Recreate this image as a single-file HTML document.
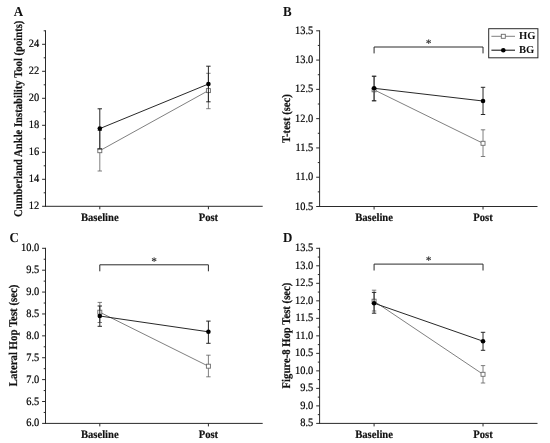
<!DOCTYPE html>
<html><head><meta charset="utf-8"><title>Figure</title>
<style>html,body{margin:0;padding:0;background:#fff;}svg{display:block;}text{font-family:"Liberation Serif", "Times New Roman", serif;text-rendering:geometricPrecision;}</style>
</head><body>
<svg width="550" height="443" viewBox="0 0 550 443">
<rect width="550" height="443" fill="#fff"/>
<line x1="45.50" y1="30.30" x2="45.50" y2="206.80" stroke="#2a2a2a" stroke-width="1"/>
<line x1="45.00" y1="206.30" x2="262.70" y2="206.30" stroke="#2a2a2a" stroke-width="1"/>
<line x1="42.10" y1="206.30" x2="45.50" y2="206.30" stroke="#2a2a2a" stroke-width="1"/>
<text x="0" y="0" font-size="10.4" text-anchor="end" fill="#000" stroke="#000" stroke-width="0.2" transform="translate(39.20 209.30) scale(1.0,1.09)">12</text>
<line x1="42.10" y1="179.30" x2="45.50" y2="179.30" stroke="#2a2a2a" stroke-width="1"/>
<text x="0" y="0" font-size="10.4" text-anchor="end" fill="#000" stroke="#000" stroke-width="0.2" transform="translate(39.20 182.30) scale(1.0,1.09)">14</text>
<line x1="42.10" y1="152.30" x2="45.50" y2="152.30" stroke="#2a2a2a" stroke-width="1"/>
<text x="0" y="0" font-size="10.4" text-anchor="end" fill="#000" stroke="#000" stroke-width="0.2" transform="translate(39.20 155.30) scale(1.0,1.09)">16</text>
<line x1="42.10" y1="125.30" x2="45.50" y2="125.30" stroke="#2a2a2a" stroke-width="1"/>
<text x="0" y="0" font-size="10.4" text-anchor="end" fill="#000" stroke="#000" stroke-width="0.2" transform="translate(39.20 128.30) scale(1.0,1.09)">18</text>
<line x1="42.10" y1="98.30" x2="45.50" y2="98.30" stroke="#2a2a2a" stroke-width="1"/>
<text x="0" y="0" font-size="10.4" text-anchor="end" fill="#000" stroke="#000" stroke-width="0.2" transform="translate(39.20 101.30) scale(1.0,1.09)">20</text>
<line x1="42.10" y1="71.30" x2="45.50" y2="71.30" stroke="#2a2a2a" stroke-width="1"/>
<text x="0" y="0" font-size="10.4" text-anchor="end" fill="#000" stroke="#000" stroke-width="0.2" transform="translate(39.20 74.30) scale(1.0,1.09)">22</text>
<line x1="42.10" y1="44.30" x2="45.50" y2="44.30" stroke="#2a2a2a" stroke-width="1"/>
<text x="0" y="0" font-size="10.4" text-anchor="end" fill="#000" stroke="#000" stroke-width="0.2" transform="translate(39.20 47.30) scale(1.0,1.09)">24</text>
<line x1="43.70" y1="192.80" x2="45.50" y2="192.80" stroke="#2a2a2a" stroke-width="1"/>
<line x1="43.70" y1="165.80" x2="45.50" y2="165.80" stroke="#2a2a2a" stroke-width="1"/>
<line x1="43.70" y1="138.80" x2="45.50" y2="138.80" stroke="#2a2a2a" stroke-width="1"/>
<line x1="43.70" y1="111.80" x2="45.50" y2="111.80" stroke="#2a2a2a" stroke-width="1"/>
<line x1="43.70" y1="84.80" x2="45.50" y2="84.80" stroke="#2a2a2a" stroke-width="1"/>
<line x1="43.70" y1="57.80" x2="45.50" y2="57.80" stroke="#2a2a2a" stroke-width="1"/>
<line x1="43.70" y1="30.80" x2="45.50" y2="30.80" stroke="#2a2a2a" stroke-width="1"/>
<line x1="99.80" y1="206.30" x2="99.80" y2="209.30" stroke="#2a2a2a" stroke-width="1"/>
<text x="0" y="0" font-size="10.65" font-weight="bold" text-anchor="middle" fill="#111" stroke="#111" stroke-width="0.15" transform="translate(99.80 220.70) scale(1.0,1.06)">Baseline</text>
<line x1="208.40" y1="206.30" x2="208.40" y2="209.30" stroke="#2a2a2a" stroke-width="1"/>
<text x="0" y="0" font-size="10.65" font-weight="bold" text-anchor="middle" fill="#111" stroke="#111" stroke-width="0.15" transform="translate(208.40 220.70) scale(1.0,1.06)">Post</text>
<text x="0" y="0" font-size="13.0" font-weight="bold" text-anchor="start" fill="#111" transform="translate(13.70 16.40) scale(1.0,1.06)">A</text>
<text x="0" y="0" font-size="10.65" font-weight="bold" text-anchor="middle" fill="#111" stroke="#111" stroke-width="0.2" transform="translate(21.90 118.75) rotate(-90) scale(1.0,1.1)">Cumberland Ankle Instability Tool (points)</text>
<line x1="99.80" y1="150.70" x2="208.40" y2="90.60" stroke="#606060" stroke-width="0.8"/>
<line x1="99.80" y1="130.50" x2="99.80" y2="171.00" stroke="#606060" stroke-width="0.8"/>
<line x1="97.60" y1="130.50" x2="102.00" y2="130.50" stroke="#606060" stroke-width="0.8"/>
<line x1="97.60" y1="171.00" x2="102.00" y2="171.00" stroke="#606060" stroke-width="0.8"/>
<rect x="97.80" y="148.70" width="4" height="4" fill="#fff" stroke="#6a6a6a" stroke-width="0.9"/>
<line x1="208.40" y1="73.30" x2="208.40" y2="108.70" stroke="#606060" stroke-width="0.8"/>
<line x1="206.20" y1="73.30" x2="210.60" y2="73.30" stroke="#606060" stroke-width="0.8"/>
<line x1="206.20" y1="108.70" x2="210.60" y2="108.70" stroke="#606060" stroke-width="0.8"/>
<rect x="206.40" y="88.60" width="4" height="4" fill="#fff" stroke="#6a6a6a" stroke-width="0.9"/>
<line x1="99.80" y1="128.60" x2="208.40" y2="84.00" stroke="#1c1c1c" stroke-width="0.95"/>
<line x1="99.80" y1="108.80" x2="99.80" y2="149.00" stroke="#1c1c1c" stroke-width="0.95"/>
<line x1="97.60" y1="108.80" x2="102.00" y2="108.80" stroke="#1c1c1c" stroke-width="0.95"/>
<line x1="97.60" y1="149.00" x2="102.00" y2="149.00" stroke="#1c1c1c" stroke-width="0.95"/>
<circle cx="99.80" cy="128.60" r="2.3" fill="#000"/>
<line x1="208.40" y1="66.20" x2="208.40" y2="101.80" stroke="#1c1c1c" stroke-width="0.95"/>
<line x1="206.20" y1="66.20" x2="210.60" y2="66.20" stroke="#1c1c1c" stroke-width="0.95"/>
<line x1="206.20" y1="101.80" x2="210.60" y2="101.80" stroke="#1c1c1c" stroke-width="0.95"/>
<circle cx="208.40" cy="84.00" r="2.3" fill="#000"/>
<line x1="319.60" y1="30.30" x2="319.60" y2="207.00" stroke="#2a2a2a" stroke-width="1"/>
<line x1="319.10" y1="206.50" x2="537.50" y2="206.50" stroke="#2a2a2a" stroke-width="1"/>
<line x1="316.20" y1="206.50" x2="319.60" y2="206.50" stroke="#2a2a2a" stroke-width="1"/>
<text x="0" y="0" font-size="10.4" text-anchor="end" fill="#000" stroke="#000" stroke-width="0.2" transform="translate(313.30 209.50) scale(1.0,1.09)">10.5</text>
<line x1="316.20" y1="177.22" x2="319.60" y2="177.22" stroke="#2a2a2a" stroke-width="1"/>
<text x="0" y="0" font-size="10.4" text-anchor="end" fill="#000" stroke="#000" stroke-width="0.2" transform="translate(313.30 180.22) scale(1.0,1.09)">11.0</text>
<line x1="316.20" y1="147.93" x2="319.60" y2="147.93" stroke="#2a2a2a" stroke-width="1"/>
<text x="0" y="0" font-size="10.4" text-anchor="end" fill="#000" stroke="#000" stroke-width="0.2" transform="translate(313.30 150.93) scale(1.0,1.09)">11.5</text>
<line x1="316.20" y1="118.65" x2="319.60" y2="118.65" stroke="#2a2a2a" stroke-width="1"/>
<text x="0" y="0" font-size="10.4" text-anchor="end" fill="#000" stroke="#000" stroke-width="0.2" transform="translate(313.30 121.65) scale(1.0,1.09)">12.0</text>
<line x1="316.20" y1="89.37" x2="319.60" y2="89.37" stroke="#2a2a2a" stroke-width="1"/>
<text x="0" y="0" font-size="10.4" text-anchor="end" fill="#000" stroke="#000" stroke-width="0.2" transform="translate(313.30 92.37) scale(1.0,1.09)">12.5</text>
<line x1="316.20" y1="60.08" x2="319.60" y2="60.08" stroke="#2a2a2a" stroke-width="1"/>
<text x="0" y="0" font-size="10.4" text-anchor="end" fill="#000" stroke="#000" stroke-width="0.2" transform="translate(313.30 63.08) scale(1.0,1.09)">13.0</text>
<line x1="316.20" y1="30.80" x2="319.60" y2="30.80" stroke="#2a2a2a" stroke-width="1"/>
<text x="0" y="0" font-size="10.4" text-anchor="end" fill="#000" stroke="#000" stroke-width="0.2" transform="translate(313.30 33.80) scale(1.0,1.09)">13.5</text>
<line x1="317.80" y1="191.86" x2="319.60" y2="191.86" stroke="#2a2a2a" stroke-width="1"/>
<line x1="317.80" y1="162.57" x2="319.60" y2="162.57" stroke="#2a2a2a" stroke-width="1"/>
<line x1="317.80" y1="133.29" x2="319.60" y2="133.29" stroke="#2a2a2a" stroke-width="1"/>
<line x1="317.80" y1="104.01" x2="319.60" y2="104.01" stroke="#2a2a2a" stroke-width="1"/>
<line x1="317.80" y1="74.73" x2="319.60" y2="74.73" stroke="#2a2a2a" stroke-width="1"/>
<line x1="317.80" y1="45.44" x2="319.60" y2="45.44" stroke="#2a2a2a" stroke-width="1"/>
<line x1="374.08" y1="206.50" x2="374.08" y2="209.50" stroke="#2a2a2a" stroke-width="1"/>
<text x="0" y="0" font-size="10.65" font-weight="bold" text-anchor="middle" fill="#111" stroke="#111" stroke-width="0.15" transform="translate(374.08 220.90) scale(1.0,1.06)">Baseline</text>
<line x1="483.02" y1="206.50" x2="483.02" y2="209.50" stroke="#2a2a2a" stroke-width="1"/>
<text x="0" y="0" font-size="10.65" font-weight="bold" text-anchor="middle" fill="#111" stroke="#111" stroke-width="0.15" transform="translate(483.02 220.90) scale(1.0,1.06)">Post</text>
<text x="0" y="0" font-size="13.0" font-weight="bold" text-anchor="start" fill="#111" transform="translate(283.10 16.40) scale(1.0,1.06)">B</text>
<text x="0" y="0" font-size="10.6" font-weight="bold" text-anchor="middle" fill="#111" stroke="#111" stroke-width="0.2" transform="translate(290.00 118.65) rotate(-90) scale(1.0,1.1)">T-test (sec)</text>
<line x1="374.08" y1="89.80" x2="483.02" y2="143.30" stroke="#606060" stroke-width="0.8"/>
<line x1="374.08" y1="76.30" x2="374.08" y2="100.80" stroke="#606060" stroke-width="0.8"/>
<line x1="371.88" y1="76.30" x2="376.28" y2="76.30" stroke="#606060" stroke-width="0.8"/>
<line x1="371.88" y1="100.80" x2="376.28" y2="100.80" stroke="#606060" stroke-width="0.8"/>
<rect x="372.08" y="87.80" width="4" height="4" fill="#fff" stroke="#6a6a6a" stroke-width="0.9"/>
<line x1="483.02" y1="129.80" x2="483.02" y2="156.50" stroke="#606060" stroke-width="0.8"/>
<line x1="480.82" y1="129.80" x2="485.22" y2="129.80" stroke="#606060" stroke-width="0.8"/>
<line x1="480.82" y1="156.50" x2="485.22" y2="156.50" stroke="#606060" stroke-width="0.8"/>
<rect x="481.02" y="141.30" width="4" height="4" fill="#fff" stroke="#6a6a6a" stroke-width="0.9"/>
<line x1="374.08" y1="88.30" x2="483.02" y2="101.00" stroke="#1c1c1c" stroke-width="0.95"/>
<line x1="374.08" y1="76.20" x2="374.08" y2="100.80" stroke="#1c1c1c" stroke-width="0.95"/>
<line x1="371.88" y1="76.20" x2="376.28" y2="76.20" stroke="#1c1c1c" stroke-width="0.95"/>
<line x1="371.88" y1="100.80" x2="376.28" y2="100.80" stroke="#1c1c1c" stroke-width="0.95"/>
<circle cx="374.08" cy="88.30" r="2.3" fill="#000"/>
<line x1="483.02" y1="87.30" x2="483.02" y2="114.50" stroke="#1c1c1c" stroke-width="0.95"/>
<line x1="480.82" y1="87.30" x2="485.22" y2="87.30" stroke="#1c1c1c" stroke-width="0.95"/>
<line x1="480.82" y1="114.50" x2="485.22" y2="114.50" stroke="#1c1c1c" stroke-width="0.95"/>
<circle cx="483.02" cy="101.00" r="2.3" fill="#000"/>
<polyline points="374.08,53.40 374.08,47.00 483.02,47.00 483.02,53.40" fill="none" stroke="#2a2a2a" stroke-width="1"/>
<text x="0" y="0" font-size="11.5" font-weight="bold" text-anchor="middle" fill="#333" transform="translate(428.55 47.00) scale(1.0,1.0)">*</text>
<line x1="45.50" y1="247.80" x2="45.50" y2="423.90" stroke="#2a2a2a" stroke-width="1"/>
<line x1="45.00" y1="423.40" x2="262.70" y2="423.40" stroke="#2a2a2a" stroke-width="1"/>
<line x1="42.10" y1="423.40" x2="45.50" y2="423.40" stroke="#2a2a2a" stroke-width="1"/>
<text x="0" y="0" font-size="10.4" text-anchor="end" fill="#000" stroke="#000" stroke-width="0.2" transform="translate(39.20 426.40) scale(1.0,1.09)">6.0</text>
<line x1="42.10" y1="401.51" x2="45.50" y2="401.51" stroke="#2a2a2a" stroke-width="1"/>
<text x="0" y="0" font-size="10.4" text-anchor="end" fill="#000" stroke="#000" stroke-width="0.2" transform="translate(39.20 404.51) scale(1.0,1.09)">6.5</text>
<line x1="42.10" y1="379.62" x2="45.50" y2="379.62" stroke="#2a2a2a" stroke-width="1"/>
<text x="0" y="0" font-size="10.4" text-anchor="end" fill="#000" stroke="#000" stroke-width="0.2" transform="translate(39.20 382.62) scale(1.0,1.09)">7.0</text>
<line x1="42.10" y1="357.74" x2="45.50" y2="357.74" stroke="#2a2a2a" stroke-width="1"/>
<text x="0" y="0" font-size="10.4" text-anchor="end" fill="#000" stroke="#000" stroke-width="0.2" transform="translate(39.20 360.74) scale(1.0,1.09)">7.5</text>
<line x1="42.10" y1="335.85" x2="45.50" y2="335.85" stroke="#2a2a2a" stroke-width="1"/>
<text x="0" y="0" font-size="10.4" text-anchor="end" fill="#000" stroke="#000" stroke-width="0.2" transform="translate(39.20 338.85) scale(1.0,1.09)">8.0</text>
<line x1="42.10" y1="313.96" x2="45.50" y2="313.96" stroke="#2a2a2a" stroke-width="1"/>
<text x="0" y="0" font-size="10.4" text-anchor="end" fill="#000" stroke="#000" stroke-width="0.2" transform="translate(39.20 316.96) scale(1.0,1.09)">8.5</text>
<line x1="42.10" y1="292.07" x2="45.50" y2="292.07" stroke="#2a2a2a" stroke-width="1"/>
<text x="0" y="0" font-size="10.4" text-anchor="end" fill="#000" stroke="#000" stroke-width="0.2" transform="translate(39.20 295.07) scale(1.0,1.09)">9.0</text>
<line x1="42.10" y1="270.19" x2="45.50" y2="270.19" stroke="#2a2a2a" stroke-width="1"/>
<text x="0" y="0" font-size="10.4" text-anchor="end" fill="#000" stroke="#000" stroke-width="0.2" transform="translate(39.20 273.19) scale(1.0,1.09)">9.5</text>
<line x1="42.10" y1="248.30" x2="45.50" y2="248.30" stroke="#2a2a2a" stroke-width="1"/>
<text x="0" y="0" font-size="10.4" text-anchor="end" fill="#000" stroke="#000" stroke-width="0.2" transform="translate(39.20 251.30) scale(1.0,1.09)">10.0</text>
<line x1="43.70" y1="412.46" x2="45.50" y2="412.46" stroke="#2a2a2a" stroke-width="1"/>
<line x1="43.70" y1="390.57" x2="45.50" y2="390.57" stroke="#2a2a2a" stroke-width="1"/>
<line x1="43.70" y1="368.68" x2="45.50" y2="368.68" stroke="#2a2a2a" stroke-width="1"/>
<line x1="43.70" y1="346.79" x2="45.50" y2="346.79" stroke="#2a2a2a" stroke-width="1"/>
<line x1="43.70" y1="324.91" x2="45.50" y2="324.91" stroke="#2a2a2a" stroke-width="1"/>
<line x1="43.70" y1="303.02" x2="45.50" y2="303.02" stroke="#2a2a2a" stroke-width="1"/>
<line x1="43.70" y1="281.13" x2="45.50" y2="281.13" stroke="#2a2a2a" stroke-width="1"/>
<line x1="43.70" y1="259.24" x2="45.50" y2="259.24" stroke="#2a2a2a" stroke-width="1"/>
<line x1="99.80" y1="423.40" x2="99.80" y2="426.40" stroke="#2a2a2a" stroke-width="1"/>
<text x="0" y="0" font-size="10.65" font-weight="bold" text-anchor="middle" fill="#111" stroke="#111" stroke-width="0.15" transform="translate(99.80 437.80) scale(1.0,1.06)">Baseline</text>
<line x1="208.40" y1="423.40" x2="208.40" y2="426.40" stroke="#2a2a2a" stroke-width="1"/>
<text x="0" y="0" font-size="10.65" font-weight="bold" text-anchor="middle" fill="#111" stroke="#111" stroke-width="0.15" transform="translate(208.40 437.80) scale(1.0,1.06)">Post</text>
<text x="0" y="0" font-size="13.0" font-weight="bold" text-anchor="start" fill="#111" transform="translate(9.40 242.20) scale(1.0,1.06)">C</text>
<text x="0" y="0" font-size="10.8" font-weight="bold" text-anchor="middle" fill="#111" stroke="#111" stroke-width="0.2" transform="translate(16.90 335.45) rotate(-90) scale(1.0,1.1)">Lateral Hop Test (sec)</text>
<line x1="99.80" y1="312.20" x2="208.40" y2="366.20" stroke="#606060" stroke-width="0.8"/>
<line x1="99.80" y1="302.40" x2="99.80" y2="322.50" stroke="#606060" stroke-width="0.8"/>
<line x1="97.60" y1="302.40" x2="102.00" y2="302.40" stroke="#606060" stroke-width="0.8"/>
<line x1="97.60" y1="322.50" x2="102.00" y2="322.50" stroke="#606060" stroke-width="0.8"/>
<rect x="97.80" y="310.20" width="4" height="4" fill="#fff" stroke="#6a6a6a" stroke-width="0.9"/>
<line x1="208.40" y1="355.20" x2="208.40" y2="376.80" stroke="#606060" stroke-width="0.8"/>
<line x1="206.20" y1="355.20" x2="210.60" y2="355.20" stroke="#606060" stroke-width="0.8"/>
<line x1="206.20" y1="376.80" x2="210.60" y2="376.80" stroke="#606060" stroke-width="0.8"/>
<rect x="206.40" y="364.20" width="4" height="4" fill="#fff" stroke="#6a6a6a" stroke-width="0.9"/>
<line x1="99.80" y1="316.00" x2="208.40" y2="331.80" stroke="#1c1c1c" stroke-width="0.95"/>
<line x1="99.80" y1="306.00" x2="99.80" y2="326.30" stroke="#1c1c1c" stroke-width="0.95"/>
<line x1="97.60" y1="306.00" x2="102.00" y2="306.00" stroke="#1c1c1c" stroke-width="0.95"/>
<line x1="97.60" y1="326.30" x2="102.00" y2="326.30" stroke="#1c1c1c" stroke-width="0.95"/>
<circle cx="99.80" cy="316.00" r="2.3" fill="#000"/>
<line x1="208.40" y1="321.10" x2="208.40" y2="343.30" stroke="#1c1c1c" stroke-width="0.95"/>
<line x1="206.20" y1="321.10" x2="210.60" y2="321.10" stroke="#1c1c1c" stroke-width="0.95"/>
<line x1="206.20" y1="343.30" x2="210.60" y2="343.30" stroke="#1c1c1c" stroke-width="0.95"/>
<circle cx="208.40" cy="331.80" r="2.3" fill="#000"/>
<polyline points="99.80,271.30 99.80,264.80 208.40,264.80 208.40,271.30" fill="none" stroke="#2a2a2a" stroke-width="1"/>
<text x="0" y="0" font-size="11.5" font-weight="bold" text-anchor="middle" fill="#333" transform="translate(154.10 264.80) scale(1.0,1.0)">*</text>
<line x1="319.60" y1="247.80" x2="319.60" y2="423.90" stroke="#2a2a2a" stroke-width="1"/>
<line x1="319.10" y1="423.40" x2="537.50" y2="423.40" stroke="#2a2a2a" stroke-width="1"/>
<line x1="316.20" y1="423.40" x2="319.60" y2="423.40" stroke="#2a2a2a" stroke-width="1"/>
<text x="0" y="0" font-size="10.4" text-anchor="end" fill="#000" stroke="#000" stroke-width="0.2" transform="translate(313.30 426.40) scale(1.0,1.09)">8.5</text>
<line x1="316.20" y1="405.89" x2="319.60" y2="405.89" stroke="#2a2a2a" stroke-width="1"/>
<text x="0" y="0" font-size="10.4" text-anchor="end" fill="#000" stroke="#000" stroke-width="0.2" transform="translate(313.30 408.89) scale(1.0,1.09)">9.0</text>
<line x1="316.20" y1="388.38" x2="319.60" y2="388.38" stroke="#2a2a2a" stroke-width="1"/>
<text x="0" y="0" font-size="10.4" text-anchor="end" fill="#000" stroke="#000" stroke-width="0.2" transform="translate(313.30 391.38) scale(1.0,1.09)">9.5</text>
<line x1="316.20" y1="370.87" x2="319.60" y2="370.87" stroke="#2a2a2a" stroke-width="1"/>
<text x="0" y="0" font-size="10.4" text-anchor="end" fill="#000" stroke="#000" stroke-width="0.2" transform="translate(313.30 373.87) scale(1.0,1.09)">10.0</text>
<line x1="316.20" y1="353.36" x2="319.60" y2="353.36" stroke="#2a2a2a" stroke-width="1"/>
<text x="0" y="0" font-size="10.4" text-anchor="end" fill="#000" stroke="#000" stroke-width="0.2" transform="translate(313.30 356.36) scale(1.0,1.09)">10.5</text>
<line x1="316.20" y1="335.85" x2="319.60" y2="335.85" stroke="#2a2a2a" stroke-width="1"/>
<text x="0" y="0" font-size="10.4" text-anchor="end" fill="#000" stroke="#000" stroke-width="0.2" transform="translate(313.30 338.85) scale(1.0,1.09)">11.0</text>
<line x1="316.20" y1="318.34" x2="319.60" y2="318.34" stroke="#2a2a2a" stroke-width="1"/>
<text x="0" y="0" font-size="10.4" text-anchor="end" fill="#000" stroke="#000" stroke-width="0.2" transform="translate(313.30 321.34) scale(1.0,1.09)">11.5</text>
<line x1="316.20" y1="300.83" x2="319.60" y2="300.83" stroke="#2a2a2a" stroke-width="1"/>
<text x="0" y="0" font-size="10.4" text-anchor="end" fill="#000" stroke="#000" stroke-width="0.2" transform="translate(313.30 303.83) scale(1.0,1.09)">12.0</text>
<line x1="316.20" y1="283.32" x2="319.60" y2="283.32" stroke="#2a2a2a" stroke-width="1"/>
<text x="0" y="0" font-size="10.4" text-anchor="end" fill="#000" stroke="#000" stroke-width="0.2" transform="translate(313.30 286.32) scale(1.0,1.09)">12.5</text>
<line x1="316.20" y1="265.81" x2="319.60" y2="265.81" stroke="#2a2a2a" stroke-width="1"/>
<text x="0" y="0" font-size="10.4" text-anchor="end" fill="#000" stroke="#000" stroke-width="0.2" transform="translate(313.30 268.81) scale(1.0,1.09)">13.0</text>
<line x1="316.20" y1="248.30" x2="319.60" y2="248.30" stroke="#2a2a2a" stroke-width="1"/>
<text x="0" y="0" font-size="10.4" text-anchor="end" fill="#000" stroke="#000" stroke-width="0.2" transform="translate(313.30 251.30) scale(1.0,1.09)">13.5</text>
<line x1="317.80" y1="414.64" x2="319.60" y2="414.64" stroke="#2a2a2a" stroke-width="1"/>
<line x1="317.80" y1="397.13" x2="319.60" y2="397.13" stroke="#2a2a2a" stroke-width="1"/>
<line x1="317.80" y1="379.62" x2="319.60" y2="379.62" stroke="#2a2a2a" stroke-width="1"/>
<line x1="317.80" y1="362.12" x2="319.60" y2="362.12" stroke="#2a2a2a" stroke-width="1"/>
<line x1="317.80" y1="344.61" x2="319.60" y2="344.61" stroke="#2a2a2a" stroke-width="1"/>
<line x1="317.80" y1="327.09" x2="319.60" y2="327.09" stroke="#2a2a2a" stroke-width="1"/>
<line x1="317.80" y1="309.58" x2="319.60" y2="309.58" stroke="#2a2a2a" stroke-width="1"/>
<line x1="317.80" y1="292.07" x2="319.60" y2="292.07" stroke="#2a2a2a" stroke-width="1"/>
<line x1="317.80" y1="274.56" x2="319.60" y2="274.56" stroke="#2a2a2a" stroke-width="1"/>
<line x1="317.80" y1="257.06" x2="319.60" y2="257.06" stroke="#2a2a2a" stroke-width="1"/>
<line x1="374.08" y1="423.40" x2="374.08" y2="426.40" stroke="#2a2a2a" stroke-width="1"/>
<text x="0" y="0" font-size="10.65" font-weight="bold" text-anchor="middle" fill="#111" stroke="#111" stroke-width="0.15" transform="translate(374.08 437.80) scale(1.0,1.06)">Baseline</text>
<line x1="483.02" y1="423.40" x2="483.02" y2="426.40" stroke="#2a2a2a" stroke-width="1"/>
<text x="0" y="0" font-size="10.65" font-weight="bold" text-anchor="middle" fill="#111" stroke="#111" stroke-width="0.15" transform="translate(483.02 437.80) scale(1.0,1.06)">Post</text>
<text x="0" y="0" font-size="13.0" font-weight="bold" text-anchor="start" fill="#111" transform="translate(283.10 242.20) scale(1.0,1.06)">D</text>
<text x="0" y="0" font-size="10.7" font-weight="bold" text-anchor="middle" fill="#111" stroke="#111" stroke-width="0.2" transform="translate(290.00 335.55) rotate(-90) scale(1.0,1.1)">Figure-8 Hop Test (sec)</text>
<line x1="374.08" y1="301.20" x2="483.02" y2="374.30" stroke="#606060" stroke-width="0.8"/>
<line x1="374.08" y1="290.20" x2="374.08" y2="311.00" stroke="#606060" stroke-width="0.8"/>
<line x1="371.88" y1="290.20" x2="376.28" y2="290.20" stroke="#606060" stroke-width="0.8"/>
<line x1="371.88" y1="311.00" x2="376.28" y2="311.00" stroke="#606060" stroke-width="0.8"/>
<rect x="372.08" y="299.20" width="4" height="4" fill="#fff" stroke="#6a6a6a" stroke-width="0.9"/>
<line x1="483.02" y1="365.60" x2="483.02" y2="383.00" stroke="#606060" stroke-width="0.8"/>
<line x1="480.82" y1="365.60" x2="485.22" y2="365.60" stroke="#606060" stroke-width="0.8"/>
<line x1="480.82" y1="383.00" x2="485.22" y2="383.00" stroke="#606060" stroke-width="0.8"/>
<rect x="481.02" y="372.30" width="4" height="4" fill="#fff" stroke="#6a6a6a" stroke-width="0.9"/>
<line x1="374.08" y1="303.20" x2="483.02" y2="341.20" stroke="#1c1c1c" stroke-width="0.95"/>
<line x1="374.08" y1="292.40" x2="374.08" y2="313.20" stroke="#1c1c1c" stroke-width="0.95"/>
<line x1="371.88" y1="292.40" x2="376.28" y2="292.40" stroke="#1c1c1c" stroke-width="0.95"/>
<line x1="371.88" y1="313.20" x2="376.28" y2="313.20" stroke="#1c1c1c" stroke-width="0.95"/>
<circle cx="374.08" cy="303.20" r="2.3" fill="#000"/>
<line x1="483.02" y1="332.30" x2="483.02" y2="350.30" stroke="#1c1c1c" stroke-width="0.95"/>
<line x1="480.82" y1="332.30" x2="485.22" y2="332.30" stroke="#1c1c1c" stroke-width="0.95"/>
<line x1="480.82" y1="350.30" x2="485.22" y2="350.30" stroke="#1c1c1c" stroke-width="0.95"/>
<circle cx="483.02" cy="341.20" r="2.3" fill="#000"/>
<polyline points="374.08,270.50 374.08,264.10 483.02,264.10 483.02,270.50" fill="none" stroke="#2a2a2a" stroke-width="1"/>
<text x="0" y="0" font-size="11.5" font-weight="bold" text-anchor="middle" fill="#333" transform="translate(428.55 264.10) scale(1.0,1.0)">*</text>
<rect x="488.7" y="28.7" width="49.2" height="29.1" fill="#fff" stroke="#2a2a2a" stroke-width="1"/>
<line x1="491.40" y1="36.30" x2="515.00" y2="36.30" stroke="#606060" stroke-width="0.8"/>
<rect x="501.3" y="34.3" width="4" height="4" fill="#fff" stroke="#6a6a6a" stroke-width="0.9"/>
<line x1="491.40" y1="50.20" x2="515.00" y2="50.20" stroke="#1c1c1c" stroke-width="1.1"/>
<circle cx="503.3" cy="50.2" r="2.3" fill="#000"/>
<text x="0" y="0" font-size="10.6" font-weight="bold" text-anchor="start" fill="#111" transform="translate(518.90 39.10) scale(1.0,1.0)">HG</text>
<text x="0" y="0" font-size="10.6" font-weight="bold" text-anchor="start" fill="#111" transform="translate(518.90 52.50) scale(1.0,1.0)">BG</text>
</svg>
</body></html>
